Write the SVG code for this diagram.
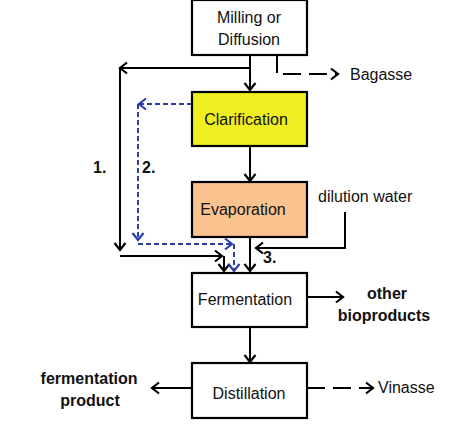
<svg xmlns="http://www.w3.org/2000/svg" width="474" height="433" viewBox="0 0 474 433">
<defs>
<marker id="ah" markerUnits="userSpaceOnUse" markerWidth="14" markerHeight="14" refX="9" refY="6" orient="auto" overflow="visible">
<path d="M2,0.5 L9,6 L2,11.5" fill="none" stroke="#000" stroke-width="2.2"/>
</marker>
<marker id="ahb" markerUnits="userSpaceOnUse" markerWidth="14" markerHeight="14" refX="9" refY="6" orient="auto" overflow="visible">
<path d="M2,0.5 L9,6 L2,11.5" fill="none" stroke="#2b3fa6" stroke-width="2.2"/>
</marker>
</defs>
<style>
.box{stroke:#000;stroke-width:2.2}
.t{font-family:"Liberation Sans",Arial,sans-serif;font-size:16px;fill:#111}
.b{font-weight:bold}
.c{fill:none;stroke:#000;stroke-width:2}
.d{stroke-dasharray:18 8}
.blue{fill:none;stroke:#2b3fa6;stroke-width:2;stroke-dasharray:5 3}
</style>
<rect width="474" height="433" fill="#fff"/>
<g id="connectors">
<line class="c" x1="250" y1="55" x2="250" y2="90" marker-end="url(#ah)"/>
<line class="c" x1="250" y1="68" x2="120" y2="68" marker-end="url(#ah)"/>
<line class="c" x1="120" y1="67" x2="120" y2="250" marker-end="url(#ah)"/>
<line class="c" x1="120" y1="256" x2="222" y2="256" marker-end="url(#ah)"/>
<line class="c" x1="224" y1="256" x2="224" y2="271" marker-end="url(#ah)"/>
<line class="c" x1="277" y1="55" x2="277" y2="73"/>
<line class="c d" x1="283" y1="74" x2="338" y2="74" marker-end="url(#ah)"/>
<line class="blue" x1="192" y1="104" x2="139" y2="104" marker-end="url(#ahb)"/>
<line class="blue" x1="138" y1="104" x2="138" y2="240" marker-end="url(#ahb)"/>
<line class="blue" x1="138" y1="244" x2="232" y2="244" marker-end="url(#ahb)"/>
<line class="blue" x1="234" y1="244" x2="234" y2="271" marker-end="url(#ahb)"/>
<line class="c" x1="250" y1="146" x2="250" y2="181" marker-end="url(#ah)"/>
<line class="c" x1="250" y1="237" x2="250" y2="271" marker-end="url(#ah)"/>
<polyline class="c" points="345,212 345,248 256,248" marker-end="url(#ah)"/>
<line class="c" x1="307" y1="297" x2="343" y2="297" marker-end="url(#ah)"/>
<line class="c" x1="250" y1="327" x2="250" y2="362" marker-end="url(#ah)"/>
<line class="c" x1="192" y1="388" x2="152" y2="388" marker-end="url(#ah)"/>
<line class="c d" x1="307" y1="388" x2="373" y2="388" marker-end="url(#ah)"/>
</g>
<g id="milling">
<rect class="box" x="192" y="0" width="115" height="55" fill="#fff"/>
<text class="t" x="249" y="23" text-anchor="middle">Milling or</text>
<text class="t" x="249" y="45" text-anchor="middle">Diffusion</text>
</g>
<g id="clarification">
<rect class="box" x="192" y="92" width="115" height="54" fill="#eeee22"/>
<text class="t" x="246" y="125" text-anchor="middle">Clarification</text>
</g>
<g id="evaporation">
<rect class="box" x="192" y="182" width="115" height="55" fill="#f9c28f"/>
<text class="t" x="243" y="215" text-anchor="middle">Evaporation</text>
</g>
<g id="fermentation">
<rect class="box" x="192" y="273" width="115" height="54" fill="#fff"/>
<text class="t" x="245" y="305" text-anchor="middle">Fermentation</text>
</g>
<g id="distillation">
<rect class="box" x="192" y="363" width="115" height="55" fill="#fff"/>
<text class="t" x="249" y="399" text-anchor="middle">Distillation</text>
</g>
<g id="labels">
<text class="t" x="350" y="80">Bagasse</text>
<text class="t" x="318" y="202">dilution water</text>
<text class="t b" x="93" y="173">1.</text>
<text class="t b" x="142" y="173">2.</text>
<text class="t b" x="263" y="263">3.</text>
<text class="t b" x="387" y="299" text-anchor="middle">other</text>
<text class="t b" x="384" y="321" text-anchor="middle">bioproducts</text>
<text class="t b" x="89" y="384" text-anchor="middle">fermentation</text>
<text class="t b" x="90" y="406" text-anchor="middle">product</text>
<text class="t" x="378" y="393">Vinasse</text>
</g>
</svg>
